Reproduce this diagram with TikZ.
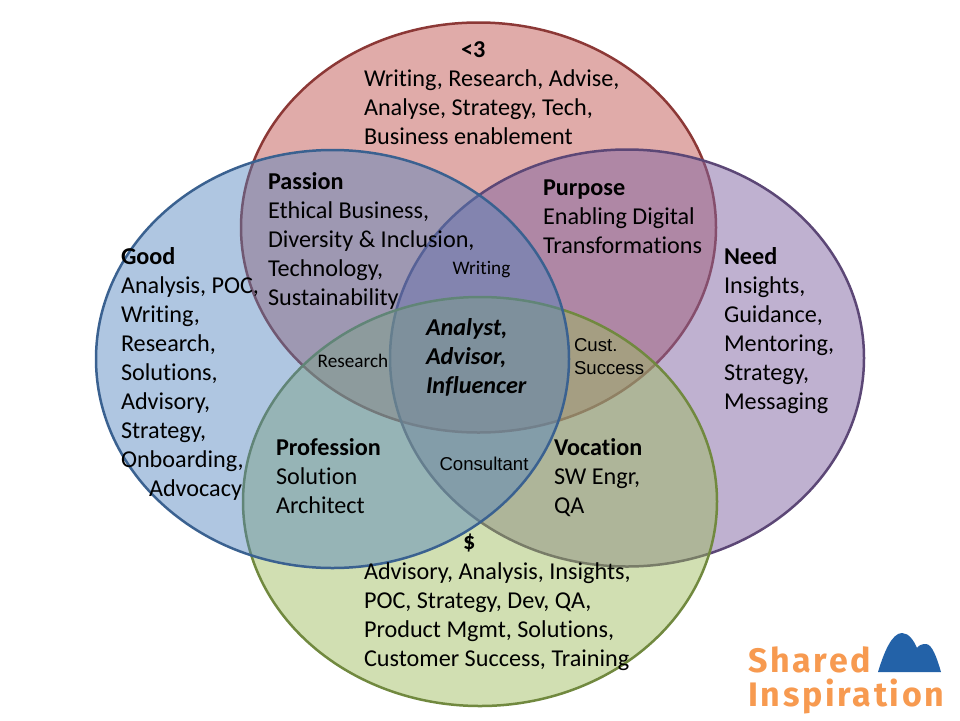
\documentclass[tikz,border=0pt]{standalone}
\usepackage{fontspec}
\setmainfont[Ligatures=NoCommon]{Carlito}
\newfontfamily\lab{Liberation Sans}
\newfontfamily\logo[LetterSpace=8]{Fira Sans}
\definecolor{cred}{HTML}{C0504D}\definecolor{cblue}{HTML}{4F81BD}
\definecolor{cpur}{HTML}{8064A2}\definecolor{cgrn}{HTML}{9BBB59}
\definecolor{lred}{HTML}{8C3836}\definecolor{lblue}{HTML}{3A6190}
\definecolor{lpur}{HTML}{5C4776}\definecolor{lgrn}{HTML}{71893F}
\definecolor{logoorange}{HTML}{F79A50}\definecolor{logoblue}{HTML}{2362A8}
\tikzset{
 venn/.style={line width=2.5pt,fill opacity=#1,draw opacity=1},
 txt/.style={anchor=base west,inner sep=0pt,outer sep=0pt,yshift=-1pt,font=\fontsize{24.2}{29}\selectfont,text=black},
 smc/.style={anchor=base,inner sep=0pt,outer sep=0pt,yshift=-1pt,font=\fontsize{19.2}{21}\selectfont,text=black},
 sm/.style={anchor=base,inner sep=0pt,outer sep=0pt,yshift=-1pt,font=\lab\fontsize{18.6}{21}\selectfont,text=black},
 logotext/.style={anchor=base west,inner sep=0pt,outer sep=0pt,text=logoorange,font=\logo\bfseries\fontsize{34}{34}\selectfont}
}
\newcommand{\tl}[3]{\node[txt] (#1) at #2 {#3};}
\begin{document}
\begin{tikzpicture}[x=1pt,y=-1pt]
\useasboundingbox[fill=white] (0,0) rectangle (960,720);
\draw[venn=.48,fill=cred,draw=lred] (478.5,227.5) ellipse [x radius=237.5,y radius=205];
\draw[venn=.5,fill=cpur,draw=lpur] (627,358) ellipse [x radius=237,y radius=208.5];
\draw[venn=.46,fill=cgrn,draw=lgrn] (480,501.5) ellipse [x radius=237,y radius=204.5];
\draw[venn=.45,fill=cblue,draw=lblue] (332.5,359) ellipse [x radius=236.5,y radius=209];
\tl{a0}{(461,56)}{\textbf{<3}}
\tl{a1}{(364,85)}{Writing, Research, Advise,}
\tl{a2}{(364,114)}{Analyse, Strategy, Tech,}
\tl{a3}{(364,143)}{Business enablement}
\tl{p0}{(268,188)}{\textbf{Passion}}
\tl{p1}{(268,217)}{Ethical Business,}
\tl{p2}{(268,246)}{Diversity \& Inclusion,}
\tl{p3}{(268,275)}{Technology,}
\tl{p4}{(268,304)}{Sustainability}
\tl{u0}{(543,194)}{\textbf{Purpose}}
\tl{u1}{(543,223)}{Enabling Digital}
\tl{u2}{(543,252)}{Transformations}
\tl{g0}{(121,263)}{\textbf{Good}}
\tl{g1}{(121,292)}{Analysis, POC,}
\tl{g2}{(121,321)}{Writing,}
\tl{g3}{(121,350)}{Research,}
\tl{g4}{(121,379)}{Solutions,}
\tl{g5}{(121,408)}{Advisory,}
\tl{g6}{(121,437)}{Strategy,}
\tl{g7}{(121,466)}{Onboarding,}
\tl{g8}{(149,495)}{Advocacy}
\tl{n0}{(724,263)}{\textbf{Need}}
\tl{n1}{(724,292)}{Insights,}
\tl{n2}{(724,321)}{Guidance,}
\tl{n3}{(724,350)}{Mentoring,}
\tl{n4}{(724,379)}{Strategy,}
\tl{n5}{(724,408)}{Messaging}
\tl{c1}{(426,334)}{\textbf{\textit{Analyst,}}}
\tl{c2}{(426,363)}{\textbf{\textit{Advisor,}}}
\tl{c3}{(426,392)}{\textbf{\textit{Influencer}}}
\tl{f0}{(276,454)}{\textbf{Profession}}
\tl{f1}{(276,483)}{Solution}
\tl{f2}{(276,512)}{Architect}
\tl{v0}{(554,454)}{\textbf{Vocation}}
\tl{v1}{(554,483)}{SW Engr,}
\tl{v2}{(554,512)}{QA}
\tl{d0}{(463,548)}{\textbf{\$}}
\tl{d1}{(364,578)}{Advisory, Analysis, Insights,}
\tl{d2}{(364,607)}{POC, Strategy, Dev, QA,}
\tl{d3}{(364,636)}{Product Mgmt, Solutions,}
\tl{d4}{(364,665)}{Customer Success, Training}
\node[smc] (s1) at (481.5,273) {Writing};
\node[smc] (s2) at (353,366) {Research};
\node[sm,anchor=base west] (s3) at (574,350) {Cust.};
\node[sm,anchor=base west] (s4) at (574,373) {Success};
\node[sm] (s5) at (484,469) {Consultant};
\node[logotext] (l1) at (748,672) {Shared};
\node[logotext] (l2) at (748,706) {Inspiration};
\fill[logoblue] (878,672) .. controls (884,652) and (892,633) .. (902,633)
  .. controls (909,633) and (914,641) .. (917,648)
  .. controls (919,645) and (922,644) .. (926,644)
  .. controls (932,644) and (937,658) .. (941,672) -- cycle;
\end{tikzpicture}
\end{document}
